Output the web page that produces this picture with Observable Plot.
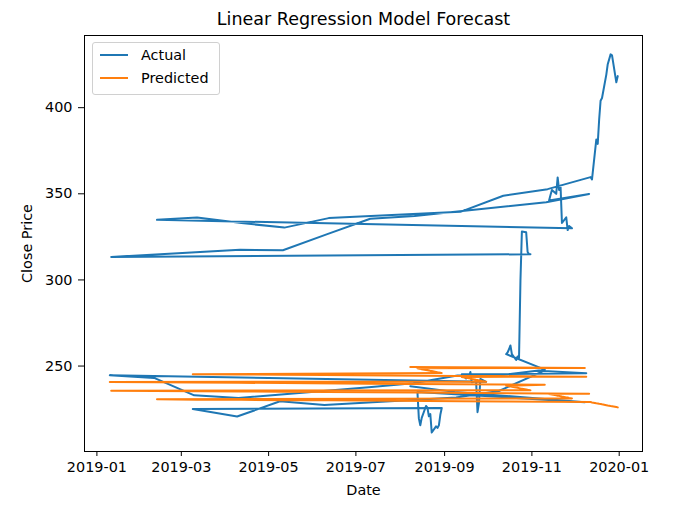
<!DOCTYPE html>
<html>
<head>
<meta charset="utf-8">
<script src="https://cdn.jsdelivr.net/npm/d3@7"></script>
<script src="https://cdn.jsdelivr.net/npm/@observablehq/plot@0.6"></script>
<style>
  html, body { margin: 0; padding: 0; background: #fff; }
  #wrap { position: relative; width: 682px; height: 507px; font-family: "DejaVu Sans", sans-serif; }
  #legend { position: absolute; left: 92px; top: 42px; width: 128px; height: 53px; box-sizing: border-box;
    border: 1px solid #d0d0d0; border-radius: 3px; background: rgba(255,255,255,0.85); font-size: 14.4px; color: #000; }
  .item { position: absolute; left: 7px; height: 20px; display: flex; align-items: center; }
  .sw { width: 28px; height: 0; border-top: 2px solid; margin-right: 13px; }
</style>
</head>
<body>
<div id="wrap">
  <div id="chart"></div>
  <div id="legend">
    <div class="item" style="top:2px"><span class="sw" style="border-color:#1f77b4"></span><span>Actual</span></div>
    <div class="item" style="top:25px"><span class="sw" style="border-color:#ff7f0e"></span><span>Predicted</span></div>
  </div>
</div>
<script>
// Dates as they are placed on the x axis (in the row order of the data)
const dates = [
"2019-08-08","2019-09-08","2019-12-08","2019-08-13","2019-08-14","2019-08-15","2019-08-16","2019-08-19","2019-08-20","2019-08-21","2019-08-22","2019-08-23","2019-08-26","2019-08-27","2019-08-28","2019-08-29","2019-08-30",
"2019-03-09","2019-04-09","2019-05-09","2019-06-09","2019-09-09","2019-10-09","2019-11-09","2019-12-09","2019-09-13","2019-09-16","2019-09-17","2019-09-18","2019-09-19","2019-09-20","2019-09-23","2019-09-24","2019-09-25","2019-09-26","2019-09-27","2019-09-30",
"2019-01-10","2019-02-10","2019-03-10","2019-04-10","2019-07-10","2019-08-10","2019-09-10","2019-10-10","2019-11-10","2019-10-14","2019-10-15","2019-10-16","2019-10-17","2019-10-18","2019-10-21","2019-10-22","2019-10-23","2019-10-24","2019-10-25","2019-10-28","2019-10-29","2019-10-30","2019-10-31",
"2019-01-11","2019-04-11","2019-05-11","2019-06-11","2019-07-11","2019-08-11","2019-11-11","2019-12-11","2019-11-13","2019-11-14","2019-11-15","2019-11-18","2019-11-19","2019-11-20","2019-11-21","2019-11-22","2019-11-25","2019-11-26","2019-11-27","2019-11-29",
"2019-02-12","2019-03-12","2019-04-12","2019-05-12","2019-06-12","2019-09-12","2019-10-12","2019-11-12","2019-12-12","2019-12-13","2019-12-16","2019-12-17","2019-12-18","2019-12-19","2019-12-20","2019-12-23","2019-12-24","2019-12-26","2019-12-27","2019-12-30","2019-12-31"];

const actual = [
238.30,235.01,229.01,235.00,219.62,215.64,219.94,226.83,225.86,220.83,222.15,211.40,215.00,214.08,215.59,221.71,225.61,
225.01,220.68,229.58,227.45,231.79,235.54,247.10,245.87,245.20,242.81,244.79,243.49,246.60,240.62,241.23,223.21,228.70,242.56,242.13,240.87,
244.69,243.13,233.03,231.43,237.72,240.05,244.53,244.74,247.89,256.96,257.89,259.75,261.97,256.95,253.50,255.58,254.68,299.68,328.13,327.71,316.22,315.01,314.92,
313.31,317.47,317.22,326.58,335.54,337.14,345.09,349.93,346.11,349.35,352.17,349.99,359.52,352.22,354.83,333.04,336.34,328.92,331.29,329.94,
334.87,336.20,333.03,330.37,335.89,339.53,348.84,352.70,359.68,358.39,381.50,378.99,393.15,404.04,405.59,419.22,425.25,430.94,430.38,414.70,418.33];

const predicted = [
249.5,249.3,248.9,248.7,248.5,248.4,248.2,247.7,247.6,247.4,247.2,247.1,246.6,246.4,246.3,246.1,245.9,
245.3,245.1,245.0,244.8,244.3,244.2,244.0,243.8,243.7,243.2,243.0,242.9,242.7,242.5,242.0,241.9,241.7,241.6,241.4,240.9,
240.8,240.6,240.4,240.3,239.8,239.6,239.5,239.3,239.1,238.6,238.5,238.3,238.2,238.0,237.5,237.4,237.2,237.0,236.9,236.4,236.2,236.1,235.9,
235.7,235.2,235.1,234.9,234.8,234.6,234.1,233.9,233.8,233.6,233.5,233.0,232.8,232.7,232.5,232.3,231.8,231.7,231.5,231.2,
230.7,230.5,230.4,230.2,230.1,229.6,229.4,229.3,229.1,228.9,228.4,228.3,228.1,228.0,227.8,227.3,227.1,226.8,226.7,226.2,226.0];

const xTicks = ["2019-01-01","2019-03-01","2019-05-01","2019-07-01","2019-09-01","2019-11-01","2020-01-01"];
const yTicks = [250, 300, 350, 400];
const title = "Linear Regression Model Forecast";
const xLabel = "Date";
const yLabel = "Close Price";

const rows = dates.map((d, i) => ({date: new Date(d + "T00:00:00Z"), actual: actual[i], predicted: predicted[i]}));

const chart = Plot.plot({
  width: 682,
  height: 507,
  marginLeft: 84,
  marginRight: 40,
  marginTop: 35,
  marginBottom: 56,
  style: {fontFamily: "DejaVu Sans, sans-serif", fontSize: "14.4px", color: "#000", background: "#fff", overflow: "visible"},
  x: {type: "utc", domain: [new Date("2018-12-23T08:00:00Z"), new Date("2020-01-17T07:00:00Z")]},
  y: {domain: [200.4, 441.9]},
  marks: [
    Plot.line(rows, {x: "date", y: "actual", stroke: "#1f77b4", strokeWidth: 2}),
    Plot.line(rows, {x: "date", y: "predicted", stroke: "#ff7f0e", strokeWidth: 2}),
    Plot.frame({stroke: "#000", strokeWidth: 1}),
    Plot.axisX({ticks: xTicks.map(d => new Date(d + "T00:00:00Z")), tickFormat: d3.utcFormat("%Y-%m"), tickSize: 5, tickPadding: 5, label: null, fontSize: 14.4}),
    Plot.axisY({ticks: yTicks, tickSize: 6, tickPadding: 6, label: null, fontSize: 14.4}),
    Plot.text([title], {frameAnchor: "top", dy: -16, lineAnchor: "middle", textAnchor: "middle", fontSize: 17.5}),
    Plot.text([xLabel], {frameAnchor: "bottom", dy: 39, lineAnchor: "middle", textAnchor: "middle", fontSize: 14.4}),
    Plot.text([yLabel], {frameAnchor: "left", dx: -57, rotate: -90, lineAnchor: "middle", textAnchor: "middle", fontSize: 14.4})
  ]
});
document.getElementById("chart").appendChild(chart);
</script>
</body>
</html>
